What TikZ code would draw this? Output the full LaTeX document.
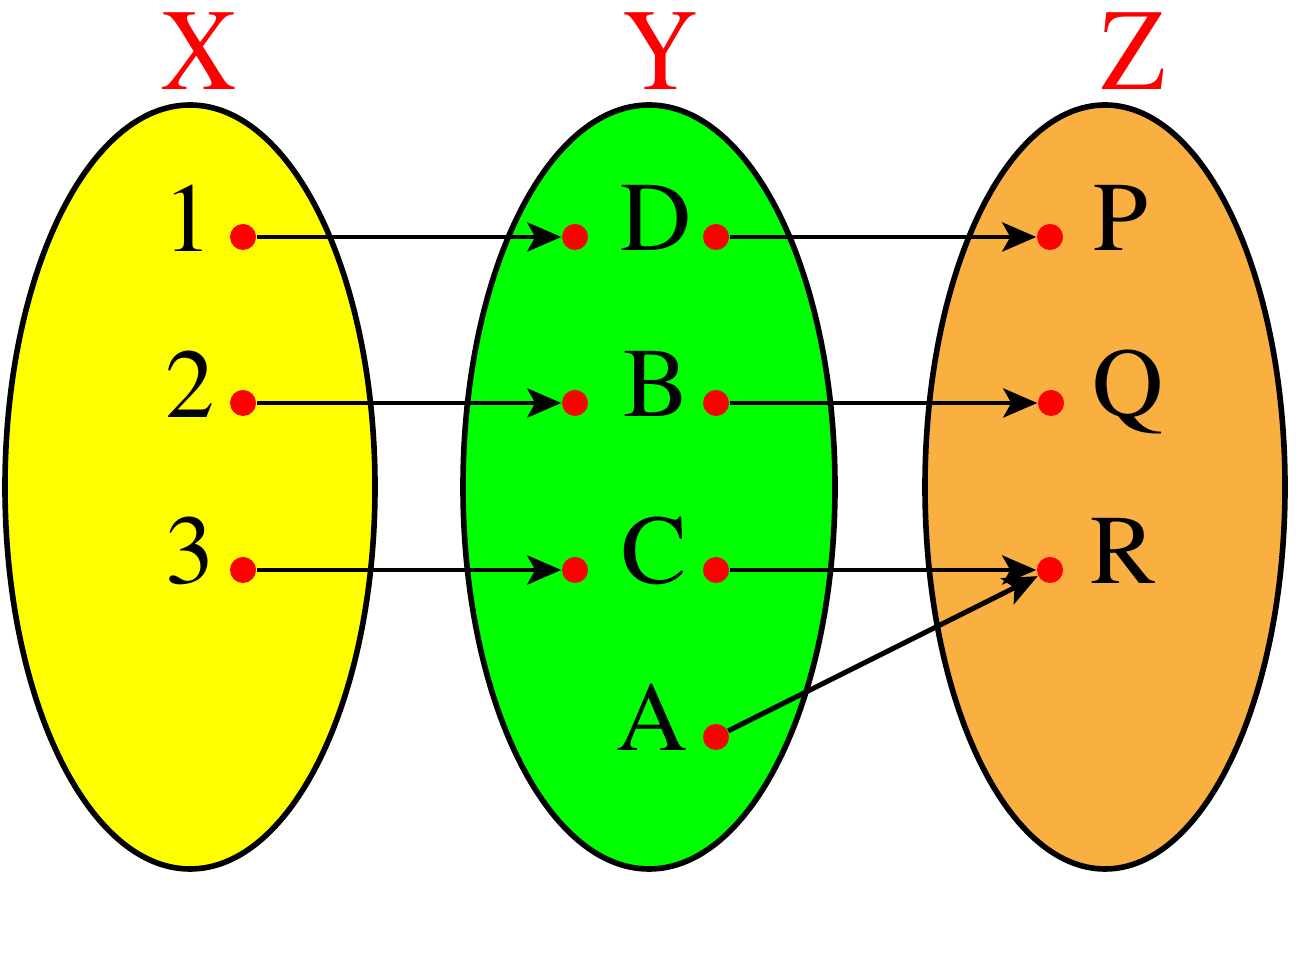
\documentclass[tikz,border=0pt]{standalone}
\usepackage{fontspec}
\setmainfont{texgyretermes}[Extension=.otf, UprightFont=*-regular]
\usetikzlibrary{arrows.meta}

\tikzset{
  setshape/.style={draw=black, line width=1.6pt},
  elem/.style={circle, fill=red, inner sep=0pt, minimum size=0.26cm},
  elemlbl/.style={inner sep=0pt, font=\fontsize{28}{30}\selectfont},
  setname/.style={inner sep=0pt, text=red, font=\fontsize{33}{36}\selectfont, anchor=base},
  maparrow/.style={line width=1.4pt, -{Stealth[length=0.34cm, width=0.29cm, inset=0.08cm]}}
}
\definecolor{setyellow}{HTML}{FFFF00}
\definecolor{setgreen}{HTML}{00FF00}
\definecolor{setorange}{HTML}{F9B041}

\begin{document}
\begin{tikzpicture}[x=0.01cm, y=-0.01cm]
\useasboundingbox (0,0) rectangle (1300,962);

% The three sets
\draw[setshape, fill=setyellow] (190,487) ellipse [x radius=185, y radius=382];
\draw[setshape, fill=setgreen] (649,487) ellipse [x radius=186, y radius=382];
\draw[setshape, fill=setorange] (1105,487) ellipse [x radius=180, y radius=382];

% Set names
\node[setname] (nameX) at (199,90) {\scalebox{0.9}[1]{X}};
\node[setname] (nameY) at (660,90) {\scalebox{0.9}[1]{Y}};
\node[setname] (nameZ) at (1133,90) {\scalebox{0.9}[1]{Z}};

% Elements of X
\node[elem] (x1) at (243,237) {};
\node[elem] (x2) at (243,403) {};
\node[elem] (x3) at (243,570) {};
\node[elemlbl, anchor=base east] (lx1) at (213,252) {1};
\node[elemlbl, anchor=base east] (lx2) at (215,418) {2};
\node[elemlbl, anchor=base east] (lx3) at (215,584) {3};

% Elements of Y (left dot takes arrows in, right dot sends them out)
\node[elem] (yin1) at (575,237) {};
\node[elem] (yin2) at (575,403) {};
\node[elem] (yin3) at (575,570) {};
\node[elem] (yD) at (716,237) {};
\node[elem] (yB) at (716,403) {};
\node[elem] (yC) at (716,570) {};
\node[elem] (yA) at (716,737) {};
\node[elemlbl, anchor=base east] (lyD) at (692,251) {D};
\node[elemlbl, anchor=base east] (lyB) at (690,417) {B};
\node[elemlbl, anchor=base east] (lyC) at (688,584) {C};
\node[elemlbl, anchor=base east] (lyA) at (688,751) {A};

% Elements of Z
\node[elem] (zP) at (1050,237) {};
\node[elem] (zQ) at (1051,403) {};
\node[elem] (zR) at (1050,570) {};
\node[elemlbl, anchor=base west] (lzP) at (1093,251) {P};
\node[elemlbl, anchor=base west] (lzQ) at (1092,417) {Q};
\node[elemlbl, anchor=base west] (lzR) at (1090,584) {R};

% Mappings X -> Y
\draw[maparrow] (x1) -- (yin1);
\draw[maparrow] (x2) -- (yin2);
\draw[maparrow] (x3) -- (yin3);

% Mappings Y -> Z
\draw[maparrow] (yD) -- (zP);
\draw[maparrow] (yB) -- (zQ);
\draw[maparrow] (yC) -- (zR);
\draw[maparrow] (yA) -- (zR);
\end{tikzpicture}
\end{document}
